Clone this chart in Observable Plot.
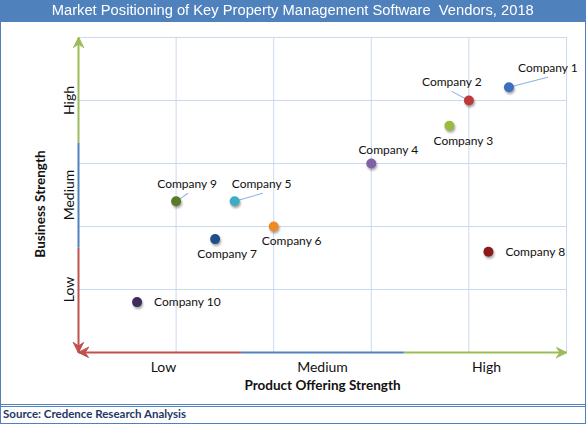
<!DOCTYPE html>
<html>
<head>
<meta charset="utf-8">
<script src="https://cdn.jsdelivr.net/npm/d3@7"></script>
<script src="https://cdn.jsdelivr.net/npm/@observablehq/plot@0.6"></script>
<style>
  body { margin: 0; background: #fff; }
  #wrap { width: 584px; height: 422px; border: 1px solid #4f81bd; overflow: hidden; }
  #title { height: 21px; line-height: 21px; background: #4f81bd; color: #fff; text-align: center;
           font: 15.5px "Liberation Sans", Arial, sans-serif; white-space: pre; }
  #title span { display: inline-block; transform: scaleX(0.95); }
  #chart svg { display: block; }
  #src { border-top: 3px double #4f81bd; height: 16px; line-height: 16px; padding-left: 2px;
         font: bold 11.5px Lato, sans-serif; color: #1f3864; }
  g[aria-label="dot"] circle { filter: drop-shadow(1px 2px 1.2px rgba(0,0,0,0.35)); }
</style>
</head>
<body>
<div id="wrap">
  <div id="title"><span>Market Positioning of Key Property Management Software  Vendors, 2018</span></div>
  <div id="chart"></div>
  <div id="src">Source: Credence Research Analysis</div>
</div>
<script>
// data
const companies = ["Company 1", "Company 2", "Company 3", "Company 4", "Company 5",
                   "Company 6", "Company 7", "Company 8", "Company 9", "Company 10"];
const productStrength = [4.41, 4.0, 3.8, 3.0, 1.6, 2.0, 1.4, 4.2, 1.0, 0.6];
const businessStrength = [4.21, 4.0, 3.6, 3.0, 2.4, 2.0, 1.8, 1.6, 2.4, 0.8];
const levels = ["Low", "Medium", "High"];
const xLevelTicks = [0.87, 2.5, 4.18];
const yLevelTicks = [1, 2.5, 4];
const gridTicks = [1, 2, 3, 4, 5];
const domain = [0, 5];

// styles
const dotColors = ["#3b70c0", "#c0393a", "#9abb3f", "#8060a8", "#3facc6",
                   "#f08a24", "#1f4e8c", "#8b1a1a", "#5a7a28", "#3e2c5c"];
const levelColors = ["#c0504d", "#4f81bd", "#9bbb59"];
const gridColor = "#c9daee";
// label offsets in px: dx, dy, anchor
const labelOffsets = [[39, -19, "middle"], [-17, -18, "middle"], [14, 15, "middle"], [17, -13, "middle"],
                      [27, -17, "middle"], [18, 15, "middle"], [12, 15, "middle"], [17, 0, "start"],
                      [11, -17, "middle"], [17, 0, "start"]];
// leader lines: company index, length px, angle deg
const leaders = [[0, 40, 75.6], [1, 19, -62], [4, 29, 74], [8, 14, 56]];

const rows = companies.map((name, i) => ({name, x: productStrength[i], y: businessStrength[i]}));

const lineShape = {draw(ctx, l) { ctx.moveTo(0, 0); ctx.lineTo(0, -l); }};
// filled "stealth" arrow head, tip at the vector end
const headShape = {draw(ctx, l) {
  const w = l * 0.5;
  ctx.moveTo(0, -l); ctx.lineTo(-w, 0); ctx.lineTo(0, -l * 0.35); ctx.lineTo(w, 0); ctx.closePath();
}};

// the three coloured axis pieces
const step = (domain[1] - domain[0]) / 3;
const cuts = [domain[0], domain[0] + step, domain[0] + 2 * step, domain[1]];
const segs = levels.map((lv, i) => ({lv, a: cuts[i], b: cuts[i + 1], color: levelColors[i]}));
// heads: low end points back to the origin, high end points outward
const heads = [
  {x: domain[0], y: domain[0], rot: -90, color: levelColors[0]},
  {x: domain[1], y: domain[0], rot: 90, color: levelColors[2]},
  {x: domain[0], y: domain[0], rot: 180, color: levelColors[0]},
  {x: domain[0], y: domain[1], rot: 0, color: levelColors[2]}
];

const plot = Plot.plot({
  width: 584,
  height: 382,
  marginTop: 15,
  marginRight: 19,
  marginBottom: 52,
  marginLeft: 77,
  style: {fontFamily: "Lato, sans-serif", color: "#000"},
  x: {domain, axis: null},
  y: {domain, axis: null},
  marks: [
    Plot.gridX(gridTicks, {stroke: gridColor, strokeOpacity: 1}),
    Plot.gridY(gridTicks, {stroke: gridColor, strokeOpacity: 1}),
    ...leaders.map(([i, len, ang]) =>
      Plot.vector([rows[i]], {x: "x", y: "y", length: len, rotate: ang, anchor: "start",
                              shape: lineShape, stroke: "#8db3e2", strokeWidth: 1})),
    Plot.link(segs, {x1: "a", x2: "b", y1: domain[0], y2: domain[0], stroke: d => d.color,
                     strokeWidth: 2, insetStart: 1, insetEnd: 1}),
    Plot.link(segs, {y1: "a", y2: "b", x1: domain[0], x2: domain[0], stroke: d => d.color,
                     strokeWidth: 2, insetStart: 1, insetEnd: 1}),
    ...heads.map(h =>
      Plot.vector([h], {x: "x", y: "y", length: 10, rotate: h.rot, anchor: "end", shape: headShape,
                        fill: h.color, stroke: h.color, strokeWidth: 1})),
    Plot.dot(rows, {x: "x", y: "y", r: 5, fill: (d, i) => dotColors[i]}),
    ...rows.map((d, i) =>
      Plot.text([d], {x: "x", y: "y", text: "name", dx: labelOffsets[i][0], dy: labelOffsets[i][1],
                      textAnchor: labelOffsets[i][2], fontSize: 12, fill: "#111"})),
    Plot.text(levels, {x: (d, i) => xLevelTicks[i], text: d => d, frameAnchor: "bottom", dy: 15,
                       textAnchor: "middle", lineAnchor: "middle", fontSize: 14, fill: "#111"}),
    Plot.text(levels, {y: (d, i) => yLevelTicks[i], text: d => d, frameAnchor: "left", dx: -9,
                       textAnchor: "middle", lineAnchor: "middle", rotate: -90, fontSize: 14, fill: "#111"}),
    Plot.text(["Product Offering Strength"], {frameAnchor: "bottom", dy: 33, textAnchor: "middle",
                                              lineAnchor: "middle", fontSize: 13.5, fontWeight: "bold", fill: "#111"}),
    Plot.text(["Business Strength"], {frameAnchor: "left", dx: -38, dy: 9, rotate: -90, textAnchor: "middle",
                                      lineAnchor: "middle", fontSize: 13.5, fontWeight: "bold", fill: "#111"})
  ]
});

document.querySelector("#chart").appendChild(plot);
</script>
</body>
</html>
